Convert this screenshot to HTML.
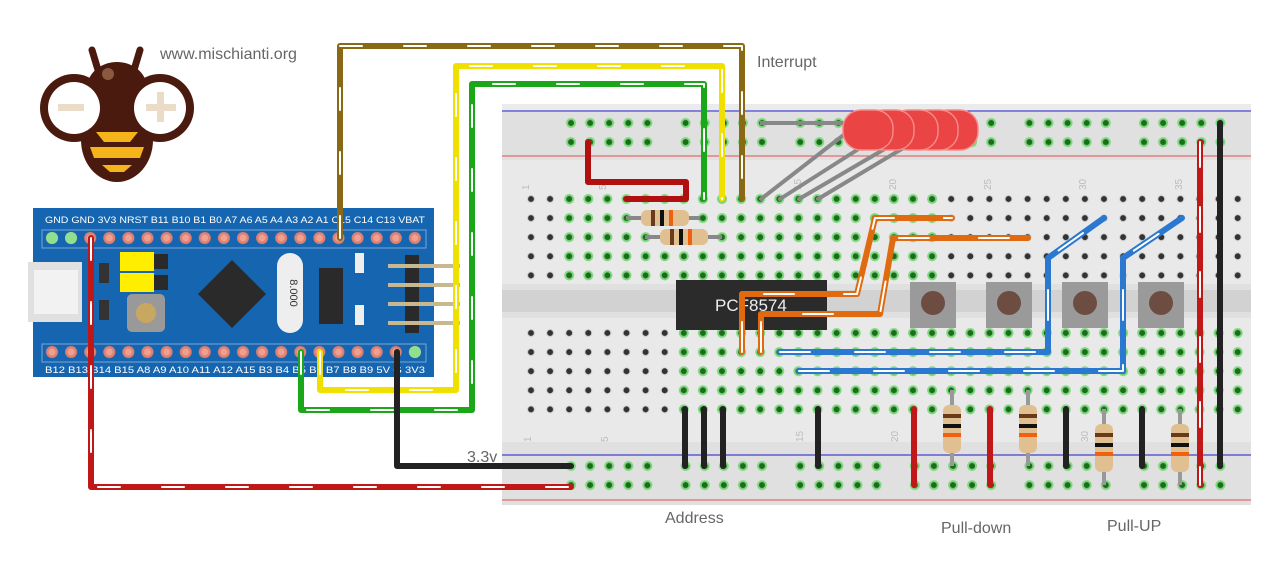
<!DOCTYPE html>
<html><head><meta charset="utf-8"><style>
html,body{margin:0;padding:0;background:#fff;width:1280px;height:568px;overflow:hidden}
svg{display:block}
text{font-family:"Liberation Sans","DejaVu Sans",sans-serif}
</style></head><body>
<svg width="1280" height="568" viewBox="0 0 1280 568" xmlns="http://www.w3.org/2000/svg">
<defs>
<pattern id="hu" x="521.45" y="189.45" width="19.1" height="19.1" patternUnits="userSpaceOnUse">
<circle cx="9.55" cy="9.55" r="4.2" fill="#d9d9d9"/><circle cx="9.55" cy="9.55" r="3" fill="#333"/></pattern>
<pattern id="hl" x="521.45" y="323.45" width="19.1" height="19.1" patternUnits="userSpaceOnUse">
<circle cx="9.55" cy="9.55" r="4.2" fill="#d9d9d9"/><circle cx="9.55" cy="9.55" r="3" fill="#333"/></pattern>
<pattern id="gu" x="521.45" y="189.45" width="19.1" height="19.1" patternUnits="userSpaceOnUse">
<circle cx="9.55" cy="9.55" r="5" fill="#7ed87e"/><circle cx="9.55" cy="9.55" r="3" fill="#1d6b1d"/></pattern>
<pattern id="gl" x="521.45" y="323.45" width="19.1" height="19.1" patternUnits="userSpaceOnUse">
<circle cx="9.55" cy="9.55" r="5" fill="#7ed87e"/><circle cx="9.55" cy="9.55" r="3" fill="#1d6b1d"/></pattern>
<pattern id="rail" x="561.45" y="113.45" width="114.6" height="19.1" patternUnits="userSpaceOnUse">
<g fill="#7ed87e"><circle cx="9.55" cy="9.55" r="5"/><circle cx="28.65" cy="9.55" r="5"/><circle cx="47.75" cy="9.55" r="5"/><circle cx="66.85" cy="9.55" r="5"/><circle cx="85.95" cy="9.55" r="5"/></g>
<g fill="#1d6b1d"><circle cx="9.55" cy="9.55" r="3"/><circle cx="28.65" cy="9.55" r="3"/><circle cx="47.75" cy="9.55" r="3"/><circle cx="66.85" cy="9.55" r="3"/><circle cx="85.95" cy="9.55" r="3"/></g></pattern>
<pattern id="railb" x="561.45" y="456.45" width="114.6" height="19.1" patternUnits="userSpaceOnUse">
<g fill="#7ed87e"><circle cx="9.55" cy="9.55" r="5"/><circle cx="28.65" cy="9.55" r="5"/><circle cx="47.75" cy="9.55" r="5"/><circle cx="66.85" cy="9.55" r="5"/><circle cx="85.95" cy="9.55" r="5"/></g>
<g fill="#1d6b1d"><circle cx="9.55" cy="9.55" r="3"/><circle cx="28.65" cy="9.55" r="3"/><circle cx="47.75" cy="9.55" r="3"/><circle cx="66.85" cy="9.55" r="3"/><circle cx="85.95" cy="9.55" r="3"/></g></pattern>
<pattern id="pins" x="42.45" y="228.45" width="19.1" height="19.1" patternUnits="userSpaceOnUse">
<circle cx="9.55" cy="9.55" r="6" fill="#e08070"/><circle cx="9.55" cy="9.55" r="3.5" fill="#f0a090"/></pattern>
<pattern id="pinsb" x="42.45" y="342.45" width="19.1" height="19.1" patternUnits="userSpaceOnUse">
<circle cx="9.55" cy="9.55" r="6" fill="#e08070"/><circle cx="9.55" cy="9.55" r="3.5" fill="#f0a090"/></pattern>
</defs>

<g>
<path d="M98 70 L92 50 M134 70 L140 50" stroke="#4a1a0e" stroke-width="7" stroke-linecap="round"/>
<ellipse cx="117" cy="140" rx="36" ry="42" fill="#4a1a0e"/>
<ellipse cx="117" cy="88" rx="30" ry="26" fill="#4a1a0e"/>
<circle cx="108" cy="74" r="6" fill="#8a5a40"/>
<circle cx="74" cy="108" r="34" fill="#4a1a0e"/><circle cx="74" cy="108" r="26" fill="#fff"/>
<circle cx="160" cy="108" r="34" fill="#4a1a0e"/><circle cx="160" cy="108" r="26" fill="#fff"/>
<rect x="58" y="104" width="26" height="7" fill="#eadcc6"/>
<rect x="146" y="104" width="30" height="7" fill="#eadcc6"/><rect x="157" y="92" width="7" height="30" fill="#eadcc6"/>
<path d="M96 132 L138 132 L130 142 L104 142Z" fill="#f4b41a"/>
<path d="M90 147 L144 147 L140 158 L94 158Z" fill="#f4b41a"/>
<path d="M102 165 L132 165 L124 172 L110 172Z" fill="#f4b41a"/>
</g>
<text x="160" y="59" font-size="16" fill="#666">www.mischianti.org</text>
<text x="757" y="67" font-size="16" fill="#666">Interrupt</text>
<text x="467" y="462" font-size="16" fill="#666">3.3v</text>
<text x="665" y="523" font-size="16" fill="#666">Address</text>
<text x="941" y="533" font-size="16" fill="#666">Pull-down</text>
<text x="1107" y="531" font-size="16" fill="#666">Pull-UP</text>

<rect x="502" y="104" width="749" height="401" fill="#e0e0e0"/>
<rect x="502" y="104" width="749" height="8" fill="#ebebeb"/>
<rect x="502" y="160" width="749" height="124" fill="#e9e9e9"/>
<rect x="502" y="318" width="749" height="124" fill="#e9e9e9"/>
<rect x="502" y="290" width="749" height="22" fill="#d2d2d2"/>
<line x1="502" y1="111" x2="1251" y2="111" stroke="#1a1acc" stroke-width="1"/>
<line x1="502" y1="156" x2="1251" y2="156" stroke="#e05050" stroke-width="1"/>
<line x1="502" y1="455" x2="1251" y2="455" stroke="#1a1acc" stroke-width="1"/>
<line x1="502" y1="500" x2="1251" y2="500" stroke="#e05050" stroke-width="1"/>
<rect x="561" y="113" width="688" height="38" fill="url(#rail)"/>
<rect x="561" y="456" width="688" height="38" fill="url(#railb)"/>
<rect x="521.45" y="189.45" width="725.8" height="95.5" fill="url(#hu)"/>
<rect x="521.45" y="323.45" width="725.8" height="95.5" fill="url(#hl)"/>
<rect x="559.65" y="189.45" width="381.9" height="95.5" fill="url(#gu)"/>
<rect x="674.25" y="323.45" width="572.9" height="95.5" fill="url(#gl)"/>
<g font-size="10" fill="#bbb">
<text x="523" y="188" transform="rotate(-90 527 186)">1</text>
<text x="600" y="188" transform="rotate(-90 604 186)">5</text>
<text x="795" y="188" transform="rotate(-90 799 186)">15</text>
<text x="890" y="188" transform="rotate(-90 894 186)">20</text>
<text x="985" y="188" transform="rotate(-90 989 186)">25</text>
<text x="1080" y="188" transform="rotate(-90 1084 186)">30</text>
<text x="1176" y="188" transform="rotate(-90 1180 186)">35</text>
<text x="523" y="442" transform="rotate(-90 527 438)">1</text>
<text x="600" y="442" transform="rotate(-90 604 438)">5</text>
<text x="795" y="442" transform="rotate(-90 799 438)">15</text>
<text x="890" y="442" transform="rotate(-90 894 438)">20</text>
<text x="1080" y="442" transform="rotate(-90 1084 438)">30</text>
</g>

<rect x="33" y="208" width="401" height="169" fill="#1565b0"/>
<rect x="42" y="230" width="384" height="18" fill="none" stroke="#7aa6d6" stroke-width="1"/>
<rect x="42" y="344" width="384" height="18" fill="none" stroke="#7aa6d6" stroke-width="1"/>
<rect x="42.45" y="228.45" width="382" height="19.1" fill="url(#pins)"/>
<rect x="42.45" y="342.45" width="382" height="19.1" fill="url(#pinsb)"/>
<circle cx="52" cy="238" r="6" fill="#8fe08f"/><circle cx="71" cy="238" r="6" fill="#8fe08f"/><circle cx="415" cy="352" r="6" fill="#8fe08f"/>
<g font-size="9.5" fill="#fff" font-family="DejaVu Sans Mono">
<text x="45" y="223" textLength="380" lengthAdjust="spacingAndGlyphs">GND GND 3V3 NRST B11 B10 B1  B0  A7  A6  A5  A4  A3  A2  A1      C15 C14 C13 VBAT</text>
<text x="45" y="373" textLength="380" lengthAdjust="spacingAndGlyphs">B12 B13 B14 B15 A8  A9  A10 A11 A12 A15 B3  B4  B5  B6  B7  B8  B9  5V  G   3V3</text>
</g>
<rect x="28" y="262" width="54" height="60" fill="#e0e0e0"/><rect x="34" y="270" width="44" height="44" fill="#f2f2f2"/>
<rect x="120" y="252" width="34" height="19" fill="#ffee00"/><rect x="120" y="273" width="34" height="19" fill="#ffee00"/>
<rect x="154" y="254" width="14" height="15" fill="#2a2a2a"/><rect x="154" y="275" width="14" height="15" fill="#2a2a2a"/>
<rect x="127" y="294" width="38" height="38" rx="5" fill="#999"/><circle cx="146" cy="313" r="10" fill="#c8a860"/>
<rect x="99" y="263" width="10" height="20" fill="#333"/><rect x="99" y="300" width="10" height="20" fill="#333"/>
<polygon points="232,260 266,294 232,328 198,294" fill="#2a2a2a"/>
<rect x="277" y="253" width="26" height="80" rx="13" fill="#eee"/>
<text x="290" y="293" font-size="11" fill="#333" transform="rotate(90 290 293)" text-anchor="middle">8.000</text>
<rect x="319" y="268" width="24" height="56" fill="#2a2a2a"/>
<rect x="355" y="253" width="9" height="20" fill="#eee"/><rect x="355" y="305" width="9" height="20" fill="#eee"/>
<rect x="405" y="255" width="14" height="78" fill="#2a2a2a"/>
<g stroke="#c8b890" stroke-width="4"><line x1="388" y1="266" x2="460" y2="266"/><line x1="388" y1="285" x2="460" y2="285"/><line x1="388" y1="304" x2="460" y2="304"/><line x1="388" y1="323" x2="460" y2="323"/></g>

<line x1="760" y1="123" x2="845" y2="123" stroke="#888" stroke-width="4"/>
<g stroke="#888" stroke-width="4" stroke-linecap="round">
<line x1="761" y1="199" x2="850" y2="130"/><line x1="780" y1="199" x2="868" y2="143"/><line x1="799" y1="199" x2="888" y2="147"/><line x1="818" y1="199" x2="905" y2="147"/></g>
<g fill="#ea4444" stroke="#f58a8a" stroke-width="1.5">
<rect x="930" y="110" width="48" height="40" rx="18"/>
<rect x="910" y="110" width="48" height="40" rx="18"/>
<rect x="890" y="110" width="48" height="40" rx="18"/>
<rect x="866" y="110" width="48" height="40" rx="18"/>
<rect x="843" y="110" width="50" height="40" rx="18"/>
</g>

<g><line x1="626" y1="218" x2="700" y2="218" stroke="#888" stroke-width="4"/>
<rect x="641" y="210" width="48" height="16" rx="6" fill="#e0c090"/><rect x="651" y="210" width="4" height="16" fill="#6b3a1a"/><rect x="660" y="210" width="4" height="16" fill="#111"/><rect x="669" y="210" width="4" height="16" fill="#f06010"/>
<line x1="645" y1="237" x2="722" y2="237" stroke="#888" stroke-width="4"/>
<rect x="660" y="229" width="48" height="16" rx="6" fill="#e0c090"/><rect x="670" y="229" width="4" height="16" fill="#6b3a1a"/><rect x="679" y="229" width="4" height="16" fill="#111"/><rect x="688" y="229" width="4" height="16" fill="#f06010"/></g>

<rect x="676" y="280" width="151" height="50" fill="#2b2b2b"/>
<text x="715" y="311" font-size="17" fill="#eee" font-family="DejaVu Sans">PCF8574</text>

<g fill="#9a9a9a"><rect x="910" y="282" width="46" height="46"/><rect x="986" y="282" width="46" height="46"/><rect x="1062" y="282" width="46" height="46"/><rect x="1138" y="282" width="46" height="46"/></g>
<g fill="#6d4c41"><circle cx="933" cy="303" r="12"/><circle cx="1009" cy="303" r="12"/><circle cx="1085" cy="303" r="12"/><circle cx="1161" cy="303" r="12"/></g>

<g fill="none" stroke-linejoin="round" stroke-linecap="round">
<path d="M340 238 V46 H742 V199" stroke="#8a6914" stroke-width="6"/>
<path d="M340 238 V46 H742 V199" stroke="#fff" stroke-width="2" stroke-dasharray="22 42"/>
<path d="M320 352 V390 H456 V66 H722 V199" stroke="#f0e000" stroke-width="6"/>
<path d="M320 352 V390 H456 V66 H722 V199" stroke="#fff" stroke-width="2" stroke-dasharray="22 42"/>
<path d="M301 352 V410 H472 V84 H704 V199" stroke="#1aa81a" stroke-width="6"/>
<path d="M301 352 V410 H472 V84 H704 V199" stroke="#fff" stroke-width="2" stroke-dasharray="22 42"/>
<path d="M91 238 V487 H571" stroke="#c01818" stroke-width="6"/>
<path d="M91 238 V487 H571" stroke="#fff" stroke-width="2" stroke-dasharray="22 42"/>
<path d="M397 352 V466 H571" stroke="#222" stroke-width="6"/>
<path d="M588 142 V182 H686 V199 H626" stroke="#b01010" stroke-width="6"/>
<path d="M742 352 V294 H857 L875 218 H952" stroke="#e06a10" stroke-width="6"/>
<path d="M742 352 V294 H857 L875 218 H952" stroke="#fff" stroke-width="2" stroke-dasharray="30 50"/>
<path d="M761 352 V314 H880 L893 238 H1028" stroke="#e06a10" stroke-width="6"/>
<path d="M761 352 V314 H880 L893 238 H1028" stroke="#fff" stroke-width="2" stroke-dasharray="30 50"/>
<path d="M780 352 H1048 V258 L1104 218" stroke="#2a78d0" stroke-width="6"/>
<path d="M780 352 H1048 V258 L1104 218" stroke="#fff" stroke-width="2" stroke-dasharray="30 45"/>
<path d="M799 371 H1123 V258 L1182 218" stroke="#2a78d0" stroke-width="6"/>
<path d="M799 371 H1123 V258 L1182 218" stroke="#fff" stroke-width="2" stroke-dasharray="30 45"/>
<path d="M1200 142 V485" stroke="#c01818" stroke-width="6"/>
<path d="M1200 142 V485" stroke="#fff" stroke-width="2" stroke-dasharray="25 40"/>
<path d="M1220 123 V466" stroke="#222" stroke-width="6"/>
<g stroke="#222" stroke-width="6"><path d="M685 409 V466"/><path d="M704 409 V466"/><path d="M723 409 V466"/><path d="M818 409 V466"/><path d="M1066 409 V466"/><path d="M1142 409 V466"/></g>
<g stroke="#c01818" stroke-width="6"><path d="M914 409 V485"/><path d="M990 409 V485"/></g>
</g>
<g stroke="#999" stroke-width="4"><line x1="952" y1="390" x2="952" y2="466"/><line x1="1028" y1="390" x2="1028" y2="466"/><line x1="1104" y1="409" x2="1104" y2="485"/><line x1="1180" y1="409" x2="1180" y2="485"/></g>
<g>
<rect x="943" y="405" width="18" height="48" rx="6" fill="#e0c090"/><rect x="943" y="414" width="18" height="4" fill="#6b3a1a"/><rect x="943" y="424" width="18" height="4" fill="#111"/><rect x="943" y="433" width="18" height="4" fill="#f06010"/>
<rect x="1019" y="405" width="18" height="48" rx="6" fill="#e0c090"/><rect x="1019" y="414" width="18" height="4" fill="#6b3a1a"/><rect x="1019" y="424" width="18" height="4" fill="#111"/><rect x="1019" y="433" width="18" height="4" fill="#f06010"/>
<rect x="1095" y="424" width="18" height="48" rx="6" fill="#e0c090"/><rect x="1095" y="433" width="18" height="4" fill="#6b3a1a"/><rect x="1095" y="443" width="18" height="4" fill="#111"/><rect x="1095" y="452" width="18" height="4" fill="#f06010"/>
<rect x="1171" y="424" width="18" height="48" rx="6" fill="#e0c090"/><rect x="1171" y="433" width="18" height="4" fill="#6b3a1a"/><rect x="1171" y="443" width="18" height="4" fill="#111"/><rect x="1171" y="452" width="18" height="4" fill="#f06010"/>
</g>
</svg>
</body></html>
